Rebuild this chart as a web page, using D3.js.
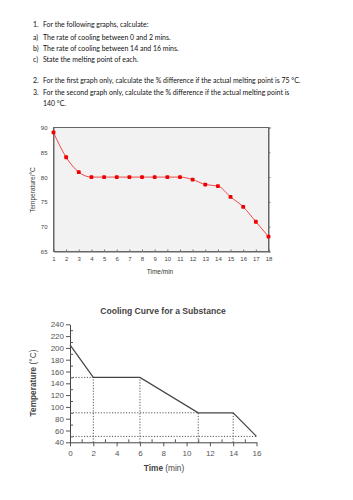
<!DOCTYPE html>
<html>
<head>
<meta charset="utf-8">
<script src="https://cdn.jsdelivr.net/npm/d3@7"></script>
<style>
  body { margin: 0; background: #fff; }
  svg { display: block; }
</style>
</head>
<body>
<svg id="page" width="353" height="500"></svg>
<script>
// question text
var questionLines = [
  ["1.", "For the following graphs, calculate:"],
  ["a)", "The rate of cooling between 0 and 2 mins."],
  ["b)", "The rate of cooling between 14 and 16 mins."],
  ["c)", "State the melting point of each."],
  ["2.", "For the first graph only, calculate the % difference if the actual melting point is 75 \u00B0C."],
  ["3.", "For the second graph only, calculate the % difference if the actual melting point is"],
  ["", "140 \u00B0C."]
];
var questionY = [25, 37.5, 49, 60, 81, 93, 104];

// graph 1 data
var times1 = [1, 2, 3, 4, 5, 6, 7, 8, 9, 10, 11, 12, 13, 14, 15, 16, 17, 18];
var temps1 = [89, 84, 81, 80, 80, 80, 80, 80, 80, 80, 80, 79.5, 78.5, 78.2, 76, 74, 71, 68];
var yTicks1 = [65, 70, 75, 80, 85, 90];

// graph 2 data
var times2 = [0, 2, 6, 11, 14, 16];
var temps2 = [205, 150, 150, 90, 90, 50];
var yTicks2 = [40, 60, 80, 100, 120, 140, 160, 180, 200, 220, 240];
var xTicks2 = [0, 2, 4, 6, 8, 10, 12, 14, 16];

var svg = d3.select("#page");

// ---- text block
var q = svg.append("g")
    .attr("font-family", "Lato, 'Open Sans', sans-serif")
    .attr("font-size", 6.95)
    .attr("fill", "#111");

questionLines.forEach(function(d, i) {
  q.append("text").attr("x", 33).attr("y", questionY[i]).attr("dy", "0.35em").text(d[0]);
  q.append("text").attr("x", 43).attr("y", questionY[i]).attr("dy", "0.35em").text(d[1]);
});

// ---- graph 1
var x1 = d3.scaleLinear().domain([1, 18]).range([53.5, 268.5]);
var y1 = d3.scaleLinear().domain([65, 90]).range([251.5, 127.5]);

var g1 = svg.append("g")
    .attr("font-family", "Arial, 'Liberation Sans', sans-serif");

g1.append("rect")
    .attr("x", x1(1)).attr("y", y1(90))
    .attr("width", x1(18) - x1(1)).attr("height", y1(65) - y1(90))
    .attr("fill", "#f2f2f2")
    .attr("stroke", "#666")
    .attr("stroke-width", 1);

var ax1 = g1.append("g")
    .attr("transform", "translate(0," + y1(65) + ")")
    .call(d3.axisBottom(x1).tickValues(times1).tickSize(-2).tickPadding(5).tickFormat(d3.format("d")));
var ay1 = g1.append("g")
    .attr("transform", "translate(" + x1(1) + ",0)")
    .call(d3.axisLeft(y1).tickValues(yTicks1).tickSize(0).tickPadding(6));
var ar1 = g1.append("g")
    .attr("transform", "translate(" + x1(18) + ",0)")
    .call(d3.axisRight(y1).tickValues(yTicks1).tickSize(2).tickFormat(""));

[ax1, ay1, ar1].forEach(function(a) {
  a.select(".domain").attr("stroke", "#666");
  a.selectAll(".tick line").attr("stroke", "#777");
  a.selectAll("text").attr("font-size", 6).attr("fill", "#444");
});

var line1 = d3.line()
    .x(function(d, i) { return x1(times1[i]); })
    .y(function(d) { return y1(d); })
    .curve(d3.curveMonotoneX);

g1.append("path")
    .datum(temps1)
    .attr("d", line1)
    .attr("fill", "none")
    .attr("stroke", "#f04848")
    .attr("stroke-width", 1);

g1.selectAll(".pt")
    .data(temps1)
  .enter().append("rect")
    .attr("class", "pt")
    .attr("x", function(d, i) { return x1(times1[i]) - 1.9; })
    .attr("y", function(d) { return y1(d) - 1.9; })
    .attr("width", 3.8).attr("height", 3.8)
    .attr("rx", 0.9)
    .attr("fill", "#ee0000");

g1.append("text")
    .attr("x", 160).attr("y", 271.5).attr("dy", "0.35em")
    .attr("text-anchor", "middle")
    .attr("font-size", 6.5).attr("fill", "#333")
    .text("Time/min");

g1.append("text")
    .attr("transform", "translate(33,190) rotate(-90)")
    .attr("dy", "0.35em")
    .attr("text-anchor", "middle")
    .attr("font-size", 6.5).attr("fill", "#333")
    .text("Temperature/\u00B0C");

// ---- graph 2
var x2 = d3.scaleLinear().domain([0, 16]).range([70, 256.5]);
var y2 = d3.scaleLinear().domain([40, 240]).range([442.3, 324.3]);

var g2 = svg.append("g")
    .attr("font-family", "Arial, 'Liberation Sans', sans-serif")
    .attr("fill", "#444");

g2.append("text")
    .attr("x", 163).attr("y", 311).attr("dy", "0.35em")
    .attr("text-anchor", "middle")
    .attr("font-size", 8.6).attr("font-weight", "bold").attr("fill", "#444")
    .text("Cooling Curve for a Substance");

// minor ticks
var minorX = d3.range(1, 16, 2);
var minorY = d3.range(50, 240, 20);

var ax2 = g2.append("g")
    .attr("transform", "translate(0," + y2(40) + ")")
    .call(d3.axisBottom(x2).tickValues(xTicks2).tickSize(4).tickPadding(4).tickSizeOuter(0));
g2.append("g")
    .attr("transform", "translate(0," + y2(40) + ")")
    .call(d3.axisBottom(x2).tickValues(minorX).tickSize(-3).tickFormat("").tickSizeOuter(0))
    .select(".domain").remove();

var ay2 = g2.append("g")
    .attr("transform", "translate(" + x2(0) + ",0)")
    .call(d3.axisLeft(y2).tickValues(yTicks2).tickSize(4).tickPadding(2).tickSizeOuter(0));
g2.append("g")
    .attr("transform", "translate(" + x2(0) + ",0)")
    .call(d3.axisLeft(y2).tickValues(minorY).tickSize(-3).tickFormat("").tickSizeOuter(0))
    .select(".domain").remove();

g2.selectAll(".domain").attr("stroke", "#444");
g2.selectAll(".tick line").attr("stroke", "#555");
[ax2, ay2].forEach(function(a) {
  a.selectAll("text").attr("font-size", 8).attr("fill", "#555");
});

// dotted guide lines
var guidesH = [
  { y: 150, x0: 0, x1: 2 },
  { y: 90, x0: 0, x1: 11 },
  { y: 50, x0: 0, x1: 16 }
];
var guidesV = [
  { x: 2, y0: 40, y1: 150 },
  { x: 6, y0: 40, y1: 150 },
  { x: 11, y0: 40, y1: 90 },
  { x: 14, y0: 40, y1: 90 }
];

g2.selectAll(".gh")
    .data(guidesH)
  .enter().append("line")
    .attr("x1", function(d) { return x2(d.x0); })
    .attr("x2", function(d) { return x2(d.x1); })
    .attr("y1", function(d) { return y2(d.y); })
    .attr("y2", function(d) { return y2(d.y); })
    .attr("stroke", "#555").attr("stroke-width", 1)
    .attr("stroke-dasharray", "1.2,1.6");

g2.selectAll(".gv")
    .data(guidesV)
  .enter().append("line")
    .attr("x1", function(d) { return x2(d.x); })
    .attr("x2", function(d) { return x2(d.x); })
    .attr("y1", function(d) { return y2(d.y0); })
    .attr("y2", function(d) { return y2(d.y1); })
    .attr("stroke", "#555").attr("stroke-width", 1)
    .attr("stroke-dasharray", "1.2,1.6");

var line2 = d3.line()
    .x(function(d, i) { return x2(times2[i]); })
    .y(function(d) { return y2(d); });

g2.append("path")
    .datum(temps2)
    .attr("d", line2)
    .attr("fill", "none")
    .attr("stroke", "#444")
    .attr("stroke-width", 1.2);

var xt = g2.append("text")
    .attr("x", 164).attr("y", 468.5).attr("dy", "0.35em")
    .attr("text-anchor", "middle")
    .attr("font-size", 8.3).attr("fill", "#444");
xt.append("tspan").attr("font-weight", "bold").text("Time");
xt.append("tspan").text(" (min)");

var yt = g2.append("text")
    .attr("transform", "translate(33,383) rotate(-90)")
    .attr("dy", "0.35em")
    .attr("text-anchor", "middle")
    .attr("font-size", 8.3).attr("fill", "#444");
yt.append("tspan").attr("font-weight", "bold").text("Temperature");
yt.append("tspan").text(" (\u00B0C)");
</script>
</body>
</html>
